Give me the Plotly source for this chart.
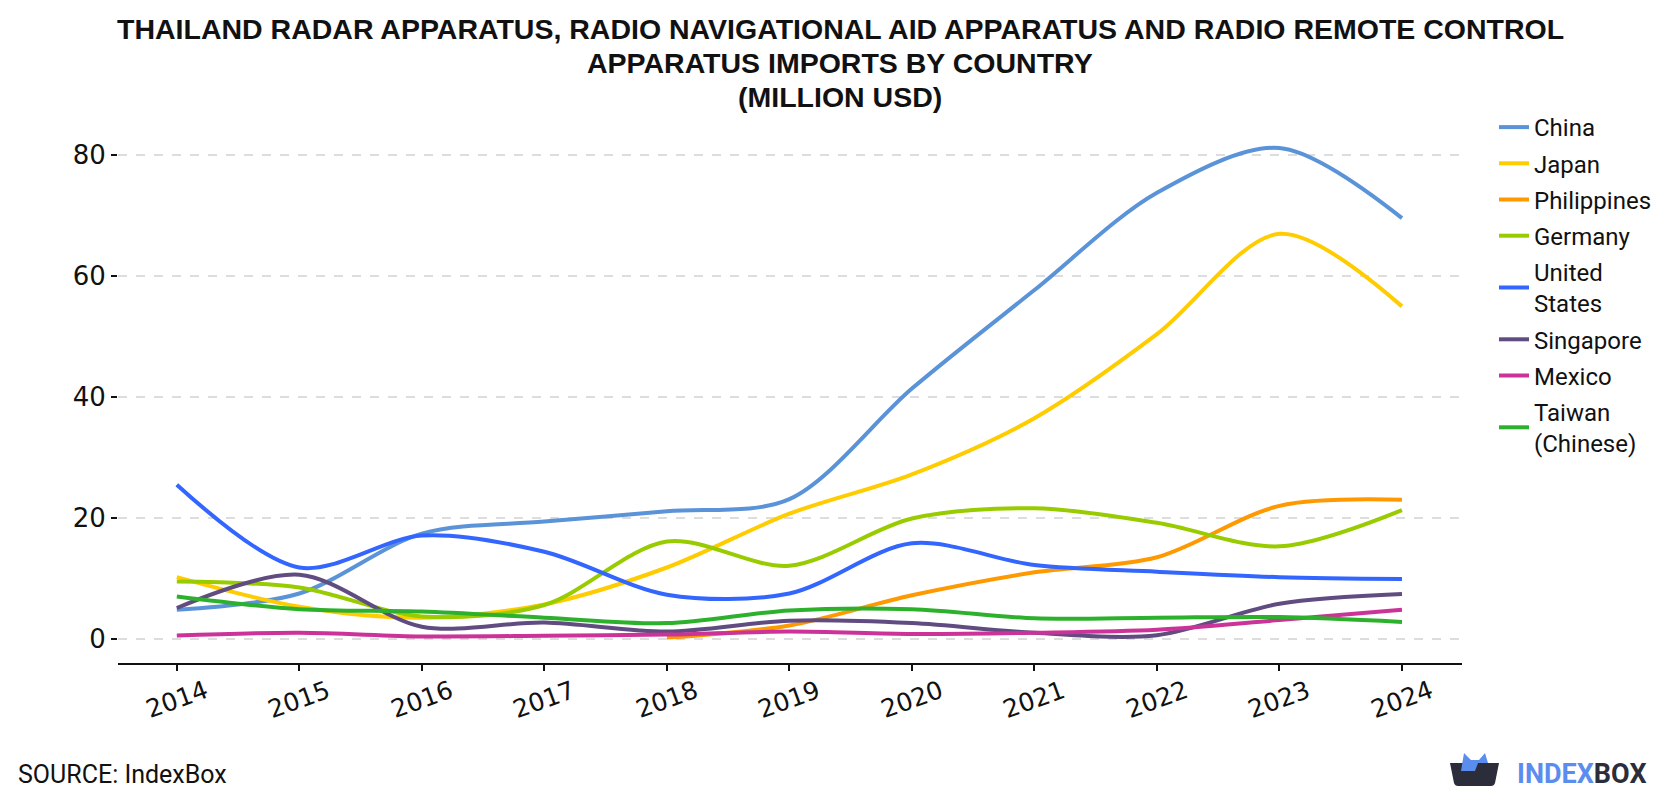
import plotly.graph_objects as go

years = [2014, 2015, 2016, 2017, 2018, 2019, 2020, 2021, 2022, 2023, 2024]
year_labels = [str(y) for y in years]

china = [4.8, 7.5, 17.4, 19.4, 21.1, 23.1, 41.4, 57.7, 73.8, 81.2, 69.6]
japan = [10.2, 5.3, 3.5, 5.7, 11.8, 20.7, 27.2, 36.5, 50.4, 67.0, 55.0]
philippines_years = [2018, 2019, 2020, 2021, 2022, 2023, 2024]
philippines = [0.2, 2.2, 7.2, 11.0, 13.5, 22.0, 23.0]
germany = [9.5, 8.5, 3.7, 5.6, 16.1, 12.1, 19.9, 21.6, 19.2, 15.3, 21.3]
united_states = [25.5, 11.8, 17.1, 14.4, 7.3, 7.5, 15.8, 12.2, 11.1, 10.2, 9.9]
singapore = [5.1, 10.6, 2.0, 2.7, 1.2, 3.0, 2.6, 1.0, 0.6, 5.8, 7.4]
mexico = [0.55, 1.0, 0.4, 0.5, 0.7, 1.2, 0.8, 1.0, 1.5, 3.1, 4.8]
taiwan = [7.0, 4.9, 4.5, 3.5, 2.6, 4.7, 4.9, 3.4, 3.5, 3.6, 2.8]

series = [
    ("China", years, china, "#5a93d8"),
    ("Japan", years, japan, "#ffcc00"),
    ("Philippines", philippines_years, philippines, "#ff9900"),
    ("Germany", years, germany, "#99cc00"),
    ("United<br>States", years, united_states, "#3366ff"),
    ("Singapore", years, singapore, "#604c80"),
    ("Mexico", years, mexico, "#cc3399"),
    ("Taiwan<br>(Chinese)", years, taiwan, "#2db12d"),
]

title_lines = [
    "THAILAND RADAR APPARATUS, RADIO NAVIGATIONAL AID APPARATUS AND RADIO REMOTE CONTROL",
    "APPARATUS IMPORTS BY COUNTRY",
    "(MILLION USD)",
]
y_ticks = [0, 20, 40, 60, 80]

FONT = "Roboto"
TICK_FONT = "DejaVu Sans"
TITLE_FONT = "Liberation Sans"

# layout geometry (pixels)
L, R, T, B = 118, 1462, 119, 663
W, H = R - L, B - T


def px(x):
    return (x - L) / W


def py(y):
    return (B - y) / H


fig = go.Figure()
for i, (name, xs, ys, color) in enumerate(series):
    fig.add_trace(go.Scatter(
        x=xs, y=ys, name=name, mode="lines",
        line=dict(color=color, width=4, shape="spline", smoothing=0.9),
        legendgroup=f"g{i}",
    ))

shapes = [
    # logo box
    dict(type="path", xref="paper", yref="paper",
         path=(f"M {px(1450)} {py(763)} L {px(1499)} {py(763)} L {px(1495)} {py(783)} "
               f"Q {px(1494)} {py(786)} {px(1491)} {py(786)} L {px(1458)} {py(786)} "
               f"Q {px(1455)} {py(786)} {px(1454)} {py(783)} Z"),
         fillcolor="#2b2d3a", line=dict(width=0)),
    # logo ears
    dict(type="path", xref="paper", yref="paper",
         path=(f"M {px(1461)} {py(771)} L {px(1464)} {py(753)} L {px(1471)} {py(760)} "
               f"L {px(1479)} {py(760)} L {px(1485)} {py(753)} L {px(1488)} {py(763)} "
               f"L {px(1478)} {py(763)} L {px(1475)} {py(771)} Z"),
         fillcolor="#5b8def", line=dict(width=0)),
]

annotations = []
for line_text, cy in zip(title_lines, [29, 63, 97]):
    annotations.append(dict(
        text=f"<b>{line_text}</b>", xref="paper", yref="paper",
        x=px(840), y=py(cy), xanchor="center", yanchor="middle", showarrow=False,
        font=dict(family=TITLE_FONT, size=28.5, color="#111111")))

for yr, lab in zip(years, year_labels):
    annotations.append(dict(
        text=lab, xref="x", yref="paper", x=yr, y=py(699),
        xanchor="center", yanchor="middle", textangle=-20, showarrow=False,
        font=dict(family=TICK_FONT, size=25, color="#111111")))

annotations += [
    dict(text="SOURCE: IndexBox", xref="paper", yref="paper",
         x=px(16), y=py(774), xanchor="left", yanchor="middle", showarrow=False,
         font=dict(family=FONT, size=25, color="#111111")),
    dict(text="<b><span style='color:#5b8def'>INDEX</span><span style='color:#2b2d3a'>BOX</span></b>",
         xref="paper", yref="paper", x=px(1515), y=py(774), xanchor="left", yanchor="middle",
         showarrow=False, font=dict(family=FONT, size=27)),
]

fig.update_layout(
    width=1680, height=800,
    margin=dict(l=L, r=1680 - R, t=T, b=800 - B),
    paper_bgcolor="white", plot_bgcolor="white",
    font=dict(family=FONT, color="#111111"),
    showlegend=True,
    legend=dict(x=px(1494), xanchor="left", y=py(105), yanchor="top",
                font=dict(family=FONT, size=24, color="#111111"),
                tracegroupgap=2, bgcolor="rgba(0,0,0,0)"),
    xaxis=dict(range=[2013.52, 2024.49], tickvals=years, showticklabels=False,
               showgrid=False, zeroline=False,
               showline=True, linecolor="#111111", linewidth=2,
               ticks="outside", ticklen=6, tickwidth=2, tickcolor="#111111"),
    yaxis=dict(range=[-4, 86], tickvals=y_ticks, showgrid=True, gridcolor="#dddddd",
               gridwidth=2, griddash="dash", zeroline=False, showline=False,
               ticks="outside", ticklen=6, tickwidth=2, tickcolor="#111111",
               tickfont=dict(family=TICK_FONT, size=26, color="#111111")),
    shapes=shapes, annotations=annotations,
)

fig.write_html("out.html")
